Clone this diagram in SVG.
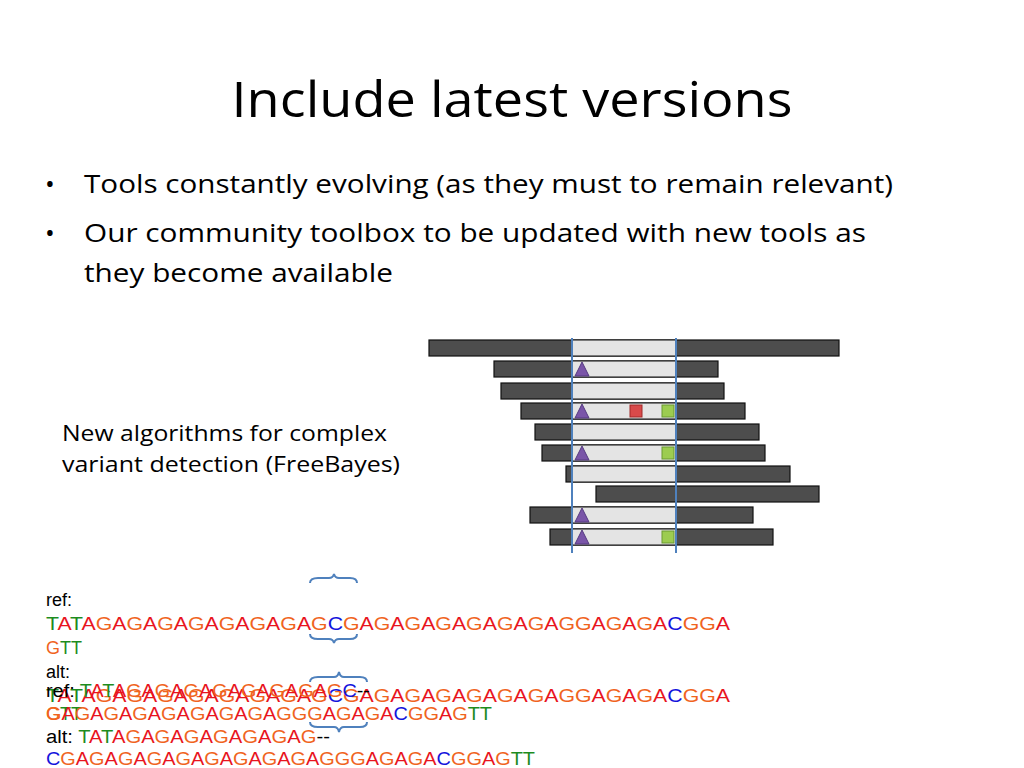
<svg xmlns="http://www.w3.org/2000/svg" width="1024" height="768" viewBox="0 0 1024 768">
<style>
.t{font-family:"Open Sans","Liberation Sans",sans-serif;fill:#000}
.s{font-family:"Liberation Sans",Arial,sans-serif;font-size:18px}
.T{fill:#1e8c1e}.A{fill:#e8141e}.G{fill:#f0641e}.C{fill:#1414dc}.k{fill:#000}
.d{fill:#4d4d4d;stroke:#111;stroke-width:1.2}
.l{fill:#e4e4e4;stroke:#111;stroke-width:1}
.tri{fill:#7a55a8;stroke:#553a80;stroke-width:1}
.br{fill:none;stroke:#4f81bd;stroke-width:2}
</style>
<rect width="1024" height="768" fill="#fff"/>
<text class="t" x="512" y="117" font-size="50" text-anchor="middle" textLength="561" lengthAdjust="spacingAndGlyphs">Include latest versions</text>
<text class="t" x="45" y="193" font-size="26">•</text>
<text class="t" x="84" y="193" font-size="26" textLength="809" lengthAdjust="spacingAndGlyphs">Tools constantly evolving (as they must to remain relevant)</text>
<text class="t" x="45" y="242" font-size="26">•</text>
<text class="t" x="84" y="242" font-size="26" textLength="782" lengthAdjust="spacingAndGlyphs">Our community toolbox to be updated with new tools as</text>
<text class="t" x="84" y="282" font-size="26" textLength="309" lengthAdjust="spacingAndGlyphs">they become available</text>
<text class="t" x="62" y="441" font-size="21" textLength="325" lengthAdjust="spacingAndGlyphs">New algorithms for complex</text>
<text class="t" x="62" y="472" font-size="21" textLength="338" lengthAdjust="spacingAndGlyphs">variant detection (FreeBayes)</text>
<g id="reads">
<rect class="d" x="429" y="340" width="410" height="16"/><rect class="l" x="572" y="340" width="104" height="16"/>
<rect class="d" x="494" y="361" width="224" height="16"/><rect class="l" x="572" y="361" width="104" height="16"/>
<rect class="d" x="501" y="383" width="223" height="16"/><rect class="l" x="572" y="383" width="104" height="16"/>
<rect class="d" x="521" y="403" width="224" height="16"/><rect class="l" x="572" y="403" width="104" height="16"/>
<rect class="d" x="535" y="424" width="224" height="16"/><rect class="l" x="572" y="424" width="104" height="16"/>
<rect class="d" x="542" y="445" width="223" height="16"/><rect class="l" x="572" y="445" width="104" height="16"/>
<rect class="d" x="566" y="466" width="224" height="16"/><rect class="l" x="572" y="466" width="104" height="16"/>
<rect class="d" x="596" y="486" width="223" height="16"/>
<rect class="d" x="530" y="507" width="223" height="16"/><rect class="l" x="572" y="507" width="104" height="16"/>
<rect class="d" x="550" y="529" width="223" height="16"/><rect class="l" x="572" y="529" width="104" height="16"/>
<polygon class="tri" points="582,362 575,376 589,376"/>
<polygon class="tri" points="582,404 575,418 589,418"/>
<polygon class="tri" points="582,446 575,460 589,460"/>
<polygon class="tri" points="582,508 575,522 589,522"/>
<polygon class="tri" points="582,530 575,544 589,544"/>
<rect x="630" y="405" width="12" height="12" fill="#d84a4a" stroke="#a02828"/>
<rect x="662" y="405" width="12" height="12" fill="#9ccc50" stroke="#6a9a30"/>
<rect x="662" y="447" width="12" height="12" fill="#9ccc50" stroke="#6a9a30"/>
<rect x="662" y="531" width="12" height="12" fill="#9ccc50" stroke="#6a9a30"/>
<line x1="572" y1="338" x2="572" y2="553" stroke="#4f81bd" stroke-width="2"/>
<line x1="676" y1="338" x2="676" y2="553" stroke="#4f81bd" stroke-width="2"/>
</g>
<g id="braces">
<path class="br" d="M310,583 Q310,578 318,578 L329,578 Q333,578 334,574 Q335,578 339,578 L350,578 Q357,578 357,583"/>
<path class="br" d="M310,634 Q310,639 318,639 L329,639 Q333,639 334,643 Q335,639 339,639 L350,639 Q357,639 357,634"/>
<path class="br" d="M310,682 Q310,677 318,677 L334,677 Q338,677 339,672 Q340,677 344,677 L360,677 Q367,677 367,682"/>
<path class="br" d="M310,722 Q310,727 318,727 L334,727 Q338,727 339,732 Q340,727 344,727 L360,727 Q367,727 367,722"/>
</g>
<g id="seq" class="s">
<text x="46" y="606" class="k">ref:</text>
<text x="46" y="630" textLength="684" lengthAdjust="spacingAndGlyphs"><tspan class="T">T</tspan><tspan class="A">A</tspan><tspan class="T">T</tspan><tspan class="A">A</tspan><tspan class="G">G</tspan><tspan class="A">A</tspan><tspan class="G">G</tspan><tspan class="A">A</tspan><tspan class="G">G</tspan><tspan class="A">A</tspan><tspan class="G">G</tspan><tspan class="A">A</tspan><tspan class="G">G</tspan><tspan class="A">A</tspan><tspan class="G">G</tspan><tspan class="A">A</tspan><tspan class="G">G</tspan><tspan class="A">A</tspan><tspan class="G">G</tspan><tspan class="C">C</tspan><tspan class="G">G</tspan><tspan class="A">A</tspan><tspan class="G">G</tspan><tspan class="A">A</tspan><tspan class="G">G</tspan><tspan class="A">A</tspan><tspan class="G">G</tspan><tspan class="A">A</tspan><tspan class="G">G</tspan><tspan class="A">A</tspan><tspan class="G">G</tspan><tspan class="A">A</tspan><tspan class="G">G</tspan><tspan class="A">A</tspan><tspan class="G">GG</tspan><tspan class="A">A</tspan><tspan class="G">G</tspan><tspan class="A">A</tspan><tspan class="G">G</tspan><tspan class="A">A</tspan><tspan class="C">C</tspan><tspan class="G">GG</tspan><tspan class="A">A</tspan></text>
<text x="46" y="654"><tspan class="G">G</tspan><tspan class="T">TT</tspan></text>
<text x="46" y="678" class="k">alt:</text>
<text x="46" y="702" textLength="684" lengthAdjust="spacingAndGlyphs"><tspan class="T">T</tspan><tspan class="A">A</tspan><tspan class="T">T</tspan><tspan class="A">A</tspan><tspan class="G">G</tspan><tspan class="A">A</tspan><tspan class="G">G</tspan><tspan class="A">A</tspan><tspan class="G">G</tspan><tspan class="A">A</tspan><tspan class="G">G</tspan><tspan class="A">A</tspan><tspan class="G">G</tspan><tspan class="A">A</tspan><tspan class="G">G</tspan><tspan class="A">A</tspan><tspan class="G">G</tspan><tspan class="A">A</tspan><tspan class="G">G</tspan><tspan class="C">C</tspan><tspan class="G">G</tspan><tspan class="A">A</tspan><tspan class="G">G</tspan><tspan class="A">A</tspan><tspan class="G">G</tspan><tspan class="A">A</tspan><tspan class="G">G</tspan><tspan class="A">A</tspan><tspan class="G">G</tspan><tspan class="A">A</tspan><tspan class="G">G</tspan><tspan class="A">A</tspan><tspan class="G">G</tspan><tspan class="A">A</tspan><tspan class="G">GG</tspan><tspan class="A">A</tspan><tspan class="G">G</tspan><tspan class="A">A</tspan><tspan class="G">G</tspan><tspan class="A">A</tspan><tspan class="C">C</tspan><tspan class="G">GG</tspan><tspan class="A">A</tspan></text>
<text x="46" y="720"><tspan class="G">G</tspan><tspan class="T">TT</tspan></text>
<text x="46" y="697" textLength="324" lengthAdjust="spacingAndGlyphs"><tspan class="k">ref: </tspan><tspan class="T">T</tspan><tspan class="A">A</tspan><tspan class="T">T</tspan><tspan class="A">A</tspan><tspan class="G">G</tspan><tspan class="A">A</tspan><tspan class="G">G</tspan><tspan class="A">A</tspan><tspan class="G">G</tspan><tspan class="A">A</tspan><tspan class="G">G</tspan><tspan class="A">A</tspan><tspan class="G">G</tspan><tspan class="A">A</tspan><tspan class="G">G</tspan><tspan class="A">A</tspan><tspan class="G">G</tspan><tspan class="A">A</tspan><tspan class="G">G</tspan><tspan class="C">C</tspan><tspan class="k">--</tspan></text>
<text x="46" y="720" textLength="446" lengthAdjust="spacingAndGlyphs"><tspan class="G">G</tspan><tspan class="A">A</tspan><tspan class="G">G</tspan><tspan class="A">A</tspan><tspan class="G">G</tspan><tspan class="A">A</tspan><tspan class="G">G</tspan><tspan class="A">A</tspan><tspan class="G">G</tspan><tspan class="A">A</tspan><tspan class="G">G</tspan><tspan class="A">A</tspan><tspan class="G">G</tspan><tspan class="A">A</tspan><tspan class="G">G</tspan><tspan class="A">A</tspan><tspan class="G">GGG</tspan><tspan class="A">A</tspan><tspan class="G">G</tspan><tspan class="A">A</tspan><tspan class="G">G</tspan><tspan class="A">A</tspan><tspan class="C">C</tspan><tspan class="G">GG</tspan><tspan class="A">A</tspan><tspan class="G">G</tspan><tspan class="T">TT</tspan></text>
<text x="46" y="743" textLength="284" lengthAdjust="spacingAndGlyphs"><tspan class="k">alt: </tspan><tspan class="T">T</tspan><tspan class="A">A</tspan><tspan class="T">T</tspan><tspan class="A">A</tspan><tspan class="G">G</tspan><tspan class="A">A</tspan><tspan class="G">G</tspan><tspan class="A">A</tspan><tspan class="G">G</tspan><tspan class="A">A</tspan><tspan class="G">G</tspan><tspan class="A">A</tspan><tspan class="G">G</tspan><tspan class="A">A</tspan><tspan class="G">G</tspan><tspan class="A">A</tspan><tspan class="G">G</tspan><tspan class="k">--</tspan></text>
<text x="46" y="765" textLength="489" lengthAdjust="spacingAndGlyphs"><tspan class="C">C</tspan><tspan class="G">G</tspan><tspan class="A">A</tspan><tspan class="G">G</tspan><tspan class="A">A</tspan><tspan class="G">G</tspan><tspan class="A">A</tspan><tspan class="G">G</tspan><tspan class="A">A</tspan><tspan class="G">G</tspan><tspan class="A">A</tspan><tspan class="G">G</tspan><tspan class="A">A</tspan><tspan class="G">G</tspan><tspan class="A">A</tspan><tspan class="G">G</tspan><tspan class="A">A</tspan><tspan class="G">G</tspan><tspan class="A">A</tspan><tspan class="G">GGG</tspan><tspan class="A">A</tspan><tspan class="G">G</tspan><tspan class="A">A</tspan><tspan class="G">G</tspan><tspan class="A">A</tspan><tspan class="C">C</tspan><tspan class="G">GG</tspan><tspan class="A">A</tspan><tspan class="G">G</tspan><tspan class="T">TT</tspan></text>
</g>
</svg>
